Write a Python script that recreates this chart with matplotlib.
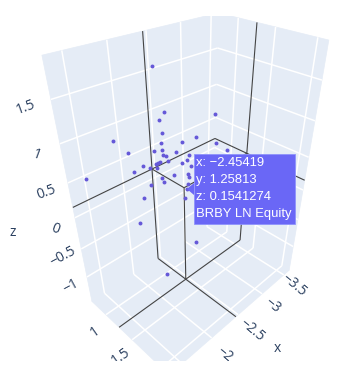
import numpy as np
import matplotlib
matplotlib.use("Agg")
import matplotlib.pyplot as plt
from matplotlib.patches import Polygon, Rectangle

# points (screen pixels of the 3d scene)
point_px = [164.3, 159, 162, 160.7, 162.3, 153.7, 128, 162.7, 165.7, 175.7, 182, 195.7, 215, 216, 227,
            189.3, 187.3, 182, 191.3, 168, 160, 157.7, 155.7, 143.3, 150, 157.3, 134, 174.3, 188, 189.3,
            162, 164.3, 188.3, 151.3, 186.7, 144.3, 185, 140, 152, 113, 86, 196, 167]
point_py = [112.3, 120.3, 133.3, 142.7, 149.7, 151.3, 153, 154.7, 155.7, 152, 142, 137.3, 114.3, 143, 150.3,
            154.7, 159.7, 162.7, 165.7, 161, 161.7, 162.7, 164, 166, 168.3, 168.3, 171.7, 174.7, 173.7, 177,
            178.3, 182.3, 183.7, 185, 188.7, 198, 198.3, 223, 65.5, 141, 179, 242, 274]

x_ticks = [-3.5, -3, -2.5, -2, -1.5]
y_ticks = [1, 1.5, 2]
z_ticks = [-1, -0.5, 0, 0.5, 1, 1.5]
x_labelled = [-3.5, -3, -2.5, -2]
y_labelled = [1, 1.5]

x_range = (-3.63, -1.3)
y_range = (0.71, 2.12)
z_range = (-1.48, 1.94)

hover = (-2.45419, 1.25813, 0.1541274)
hover_lines = ["x: \u22122.45419", "y: 1.25813", "z: 0.1541274", "BRBY LN Equity"]

TEXT = "#2a3f5f"
WALL = "#e5ecf6"
SPIKE = "#444444"
HOVER = "#6a67f6"

xl, xh = x_range
yl, yh = y_range
zb, zt = z_range
hx, hy, hz = hover

# camera calibration: scene position -> where it lands in the picture
corner_pairs = [
    ((xh, yl, zt), (41, 56)), ((xh, yl, zb), (93, 300)), ((xl, yl, zt), (222, 14)),
    ((xl, yh, zt), (328, 38)), ((xl, yh, zb), (288, 267)), ((xh, yh, zb), (167, 375)),
    ((xh, yl, 1.5), (49, 95)), ((xh, yl, -1), (87, 276)),
    ((-2, yl, zt), (106, 41)), ((-1.5, yl, zt), (61, 52)), ((-3.5, yl, zt), (207, 18)),
    ((xl, 1, zt), (243, 20)), ((xl, 2, zt), (318, 37)),
    ((-1.5, yl, zb), (103, 290)), ((-2, yl, zb), (133, 272)),
]
spike_pairs = [
    ((hx, hy, zb), (188, 282)), ((hx, yl, zb), (157, 257)), ((xl, hy, zb), (241, 242)),
    ((hx, yh, zb), (233, 317)), ((xh, hy, zb), (123, 330)), ((hx, yl, zt), (140, 32)),
    ((xl, hy, zt), (261, 23)), ((xh, yl, hz), (73, 205)), ((xl, yl, hz), (213, 137)),
    ((xl, yh, hz), (303, 178)), ((hx, yl, hz), (150, 168)), (hover, (187, 189)),
]


def fit_camera(pairs):
    rows = []
    for (X, Y, Z), (u, v) in pairs:
        rows.append([X, Y, Z, 1, 0, 0, 0, 0, -u * X, -u * Y, -u * Z, -u])
        rows.append([0, 0, 0, 0, X, Y, Z, 1, -v * X, -v * Y, -v * Z, -v])
    _, _, vt = np.linalg.svd(np.array(rows, dtype=float))
    return vt[-1].reshape(3, 4)


cam = fit_camera(corner_pairs + spike_pairs * 3)


def proj(X, Y, Z):
    u, v, w = cam @ np.array([X, Y, Z, 1.0])
    return u / w, v / w


def seg(ax, a, b, **kw):
    pa, pb = proj(*a), proj(*b)
    ax.plot([pa[0], pb[0]], [pa[1], pb[1]], solid_capstyle="butt", **kw)


fig = plt.figure(figsize=(3.57, 3.91), dpi=100)
# the scene is cut off at the top and bottom of this box
ax = fig.add_axes([0, 30 / 391, 1, 345 / 391])
ax.set_xlim(0, 357)
ax.set_ylim(361, 16)
ax.axis("off")

walls = [
    [(xh, yl, zb), (xh, yl, zt), (xl, yl, zt), (xl, yl, zb)],
    [(xl, yl, zb), (xl, yl, zt), (xl, yh, zt), (xl, yh, zb)],
    [(xh, yl, zb), (xl, yl, zb), (xl, yh, zb), (xh, yh, zb)],
]
for w in walls:
    ax.add_patch(Polygon([proj(*c) for c in w], closed=True, fc=WALL, ec=WALL, lw=0.5, zorder=1))

grid = dict(color="white", lw=1.1, zorder=2)
for x in x_ticks:
    seg(ax, (x, yl, zb), (x, yl, zt), **grid)
    seg(ax, (x, yl, zb), (x, yh, zb), **grid)
for y in y_ticks:
    seg(ax, (xl, y, zb), (xl, y, zt), **grid)
    seg(ax, (xl, y, zb), (xh, y, zb), **grid)
for z in z_ticks:
    seg(ax, (xh, yl, z), (xl, yl, z), **grid)
    seg(ax, (xl, yl, z), (xl, yh, z), **grid)

spike = dict(color=SPIKE, lw=0.8, zorder=3)
seg(ax, (hx, yl, zb), (hx, yl, zt), **spike)
seg(ax, (xh, yl, hz), (xl, yl, hz), **spike)
seg(ax, (xl, hy, zb), (xl, hy, zt), **spike)
seg(ax, (xl, yl, hz), (xl, yh, hz), **spike)
seg(ax, (hx, yl, zb), (hx, yh, zb), **spike)
seg(ax, (xl, hy, zb), (xh, hy, zb), **spike)
seg(ax, hover, (hx, yl, hz), **spike)
seg(ax, hover, (xl, hy, hz), **spike)
seg(ax, hover, (hx, hy, zb), **spike)

ax.scatter(point_px, point_py, s=8, color="#6558d8", linewidths=0, zorder=4)

font = ["Open Sans", "DejaVu Sans"]
label = dict(color=TEXT, fontsize=10, family=font, ha="center", va="center",
             rotation_mode="anchor", clip_on=True, zorder=5)

z_rot = [28, 28, -20, 20, -20, 20]
z_off = [(-16, 9), (-19, 8), (-20, 11), (-22, 9), (-23, 11), (-25, 8)]
for z, r, off in zip(z_ticks, z_rot, z_off):
    p = proj(xh, yl, z)
    ax.text(p[0] + off[0], p[1] + off[1], f"{z:g}".replace("-", "\u2212"), rotation=r, **label)

x_off = [(10, 10), (10, 12), (14, 15), (13, 17)]
for x, off in zip(x_labelled, x_off):
    p = proj(x, yh, zb)
    ax.text(p[0] + off[0], p[1] + off[1], f"{x:g}".replace("-", "\u2212"), rotation=-40, **label)

for y in y_labelled:
    p = proj(xh, y, zb)
    ax.text(p[0] - 11, p[1] + 17, f"{y:g}", rotation=35, **label)

ax.text(13, 232, "z", **label)
ax.text(277, 348, "x", **label)

# hover box
ax.add_patch(Polygon([(187, 189), (194, 183), (194, 195)], closed=True, fc=HOVER, ec="none", zorder=6))
ax.add_patch(Rectangle((194, 154), 101, 70, fc=HOVER, ec="#8f93fb", lw=0.6, zorder=6))
for i, line in enumerate(hover_lines):
    ax.text(196, 163.5 + i * 17, line, color="white", fontsize=9.4, family=["Liberation Sans", "DejaVu Sans"],
            ha="left", va="center", zorder=7)

fig.savefig("out.png", dpi=100)
